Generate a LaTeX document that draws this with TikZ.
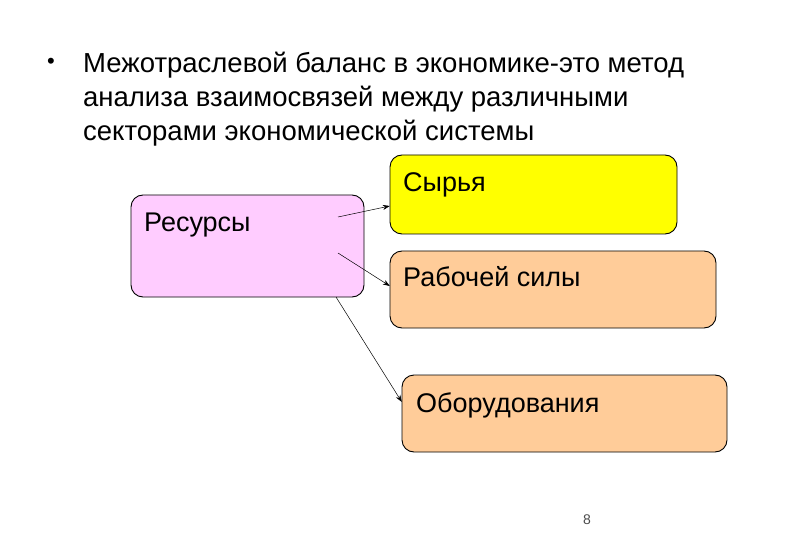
\documentclass[tikz,border=0pt]{standalone}
\usepackage{fontspec}
\setmainfont{Liberation Sans}
\usetikzlibrary{arrows.meta}
\definecolor{pinkbox}{HTML}{FFCCFF}
\definecolor{peach}{HTML}{FFCC99}
\definecolor{yel}{HTML}{FFFF00}
\tikzset{
  box/.style={draw=black, line width=0.9pt, rounded corners=12pt},
  lbl/.style={anchor=base west, inner sep=0pt, font=\fontsize{27}{30}\selectfont},
  tline/.style={anchor=base west, inner sep=0pt, font=\fontsize{27.5}{34}\selectfont},
  conn/.style={line width=0.5pt, -{Stealth[length=7pt,width=5pt]}}
}
\begin{document}
\begin{tikzpicture}[x=1pt,y=-1pt]
\useasboundingbox (0,0) rectangle (800,553);
% title
\node[anchor=center, inner sep=0pt, font=\fontsize{22}{22}\selectfont] (bul) at (51,63) {•};
\node[tline] (t1) at (83,73) {Межотраслевой баланс в экономике-это метод};
\node[tline] (t2) at (83,107) {анализа взаимосвязей между различными};
\node[tline] (t3) at (83,141) {секторами экономической системы};
% boxes
\path[box, fill=pinkbox] (131,195) rectangle (364,297);
\node[inner sep=0pt, minimum width=233pt, minimum height=102pt] (res) at (247.5,246) {};
\node[lbl] (restxt) at (144,232) {Ресурсы};
\path[box, fill=yel] (390,155) rectangle (677,234);
\node[inner sep=0pt, minimum width=287pt, minimum height=79pt] (syr) at (533.5,194.5) {};
\node[lbl] (syrtxt) at (403,192) {Сырья};
\path[box, fill=peach] (390,251) rectangle (716,328);
\node[inner sep=0pt, minimum width=326pt, minimum height=77pt] (rab) at (553,289.5) {};
\node[lbl] (rabtxt) at (403,287) {Рабочей силы};
\path[box, fill=peach] (402,375) rectangle (727,452);
\node[inner sep=0pt, minimum width=325pt, minimum height=77pt] (obo) at (564.5,413.5) {};
\node[lbl] (obotxt) at (416,412) {Оборудования};
% connectors
\coordinate (s1) at (338,217);
\coordinate (s2) at (338,253);
\coordinate (s3) at (336,297);
\draw[conn] (s1) -- (syr.west |- 0,206);
\draw[conn] (s2) -- (rab.west |- 0,286);
\draw[conn] (s3) -- (obo.west |- 0,402);
% page number
\node[anchor=base, inner sep=0pt, text=black!70, font=\fontsize{14}{14}\selectfont] (pg) at (587,524) {8};
\end{tikzpicture}
\end{document}
